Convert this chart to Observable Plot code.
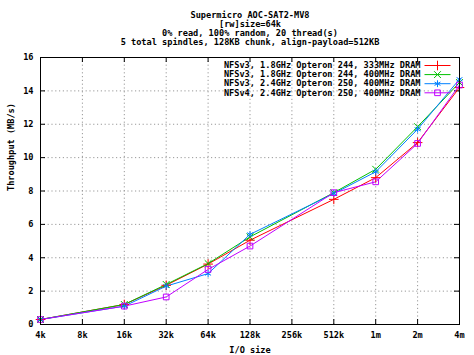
<!DOCTYPE html>
<html>
<head>
<meta charset="utf-8">
<script src="https://cdn.jsdelivr.net/npm/d3@7"></script>
<script src="https://cdn.jsdelivr.net/npm/@observablehq/plot@0.6"></script>
<style>
  html, body { margin: 0; padding: 0; background: #fff; }
</style>
</head>
<body>
<div id="chart"></div>
<script>
const titleLines = [
  "Supermicro AOC-SAT2-MV8",
  "[rw]size=64k",
  "0% read, 100% random, 20 thread(s)",
  "5 total spindles, 128KB chunk, align-payload=512KB"
];
const seriesNames = [
  "NFSv3, 1.8GHz Opteron 244, 333MHz DRAM",
  "NFSv3, 1.8GHz Opteron 244, 400MHz DRAM",
  "NFSv3, 2.4GHz Opteron 250, 400MHz DRAM",
  "NFSv4, 2.4GHz Opteron 250, 400MHz DRAM"
];
const seriesColors = ["#ff0000", "#00c000", "#0080ff", "#c000ff"];
const seriesSymbols = ["plus", "times", "asterisk", "square"];
const ioSizes = [4096, 16384, 32768, 65536, 131072, 524288, 1048576, 2097152, 4194304];
const nfs3_18_333 = [0.3, 1.2, 2.35, 3.62, 5.05, 7.5, 8.8, 10.9, 14.2];
const nfs3_18_400 = [0.3, 1.2, 2.4, 3.65, 5.25, 7.9, 9.3, 11.85, 14.5];
const nfs3_24_400 = [0.3, 1.1, 2.3, 3.05, 5.4, 7.85, 9.15, 11.7, 14.7];
const nfs4_24_400 = [0.3, 1.1, 1.65, 3.3, 4.7, 7.9, 8.55, 10.85, 14.35];
const xTicks = [4096, 8192, 16384, 32768, 65536, 131072, 262144, 524288, 1048576, 2097152, 4194304];
const xTickLabels = ["4k", "8k", "16k", "32k", "64k", "128k", "256k", "512k", "1m", "2m", "4m"];
const yTicks = [0, 2, 4, 6, 8, 10, 12, 14, 16];
const xLabel = "I/O size";
const yLabel = "Throughput (MB/s)";

const allSeries = [nfs3_18_333, nfs3_18_400, nfs3_24_400, nfs4_24_400];
const data = [];
allSeries.forEach((vals, si) => {
  vals.forEach((v, i) => data.push({series: seriesNames[si], size: ioSizes[i], value: v}));
});

const W = 474, H = 355;
const mL = 40, mR = 15, mT = 57, mB = 31;
const plotH = H - mT - mB, plotW = W - mL - mR;
const tickLen = 5;
const font = "DejaVu Sans Mono";

const hline = {
  draw(context, size) {
    const r = Math.sqrt(size / Math.PI);
    context.moveTo(-r, 0);
    context.lineTo(r, 0);
  }
};

const legendMarks = [];
seriesNames.forEach((name, i) => {
  const dy = 8 + i * 9.1;
  legendMarks.push(
    Plot.text([name], {text: d => d, frameAnchor: "top-right", dx: -39, dy, textAnchor: "end", lineAnchor: "middle", fill: "#000"}),
    Plot.dot([name], {frameAnchor: "top-right", dx: -22, dy, symbol: hline, r: 13, stroke: seriesColors[i], strokeWidth: 1, fill: "none"}),
    Plot.dot([name], {frameAnchor: "top-right", dx: -22, dy, symbol: seriesSymbols[i], r: 3.2, stroke: seriesColors[i], strokeWidth: 1, fill: "none"})
  );
});

const chart = Plot.plot({
  width: W, height: H,
  marginLeft: mL, marginRight: mR, marginTop: mT, marginBottom: mB,
  style: {fontFamily: font, fontSize: "8.6px", fontWeight: "bold", background: "#fff", color: "#000"},
  x: {type: "log", base: 2, domain: [4096, 4194304], ticks: xTicks, label: null},
  y: {domain: [0, 16], ticks: yTicks, label: null},
  color: {domain: seriesNames, range: seriesColors},
  symbol: {domain: seriesNames, range: seriesSymbols},
  marks: [
    Plot.gridX(xTicks, {stroke: "#999", strokeOpacity: 1, strokeDasharray: "1.2,2.6"}),
    Plot.gridY(yTicks, {stroke: "#999", strokeOpacity: 1, strokeDasharray: "1.2,2.6"}),
    // inward ticks on all four sides
    Plot.ruleX(xTicks, {x: d => d, insetTop: plotH - tickLen, stroke: "#000"}),
    Plot.ruleX(xTicks, {x: d => d, insetBottom: plotH - tickLen, stroke: "#000"}),
    Plot.ruleY(yTicks, {y: d => d, insetRight: plotW - tickLen, stroke: "#000"}),
    Plot.ruleY(yTicks, {y: d => d, insetLeft: plotW - tickLen, stroke: "#000"}),
    Plot.axisX(xTicks, {tickSize: 0, tickPadding: 7, tickFormat: (d) => xTickLabels[xTicks.indexOf(d)], fontWeight: "bold"}),
    Plot.axisY(yTicks, {tickSize: 0, tickPadding: 7, tickFormat: d => String(d), fontWeight: "bold"}),
    Plot.line(data, {x: "size", y: "value", z: "series", stroke: "series", strokeWidth: 1}),
    Plot.dot(data, {x: "size", y: "value", symbol: "series", stroke: "series", r: 3.2, strokeWidth: 1, fill: "none"}),
    ...legendMarks,
    Plot.frame({stroke: "#000", strokeWidth: 1}),
    Plot.text([titleLines.join("\n")], {text: d => d, frameAnchor: "top", dy: -46, lineAnchor: "top", lineHeight: 1.05, fill: "#000"}),
    Plot.text([xLabel], {text: d => d, frameAnchor: "bottom", dy: 26, lineAnchor: "middle", fill: "#000"}),
    Plot.text([yLabel], {text: d => d, frameAnchor: "left", dx: -29, rotate: -90, lineAnchor: "middle", fill: "#000"})
  ]
});
document.getElementById("chart").appendChild(chart);
</script>
</body>
</html>
